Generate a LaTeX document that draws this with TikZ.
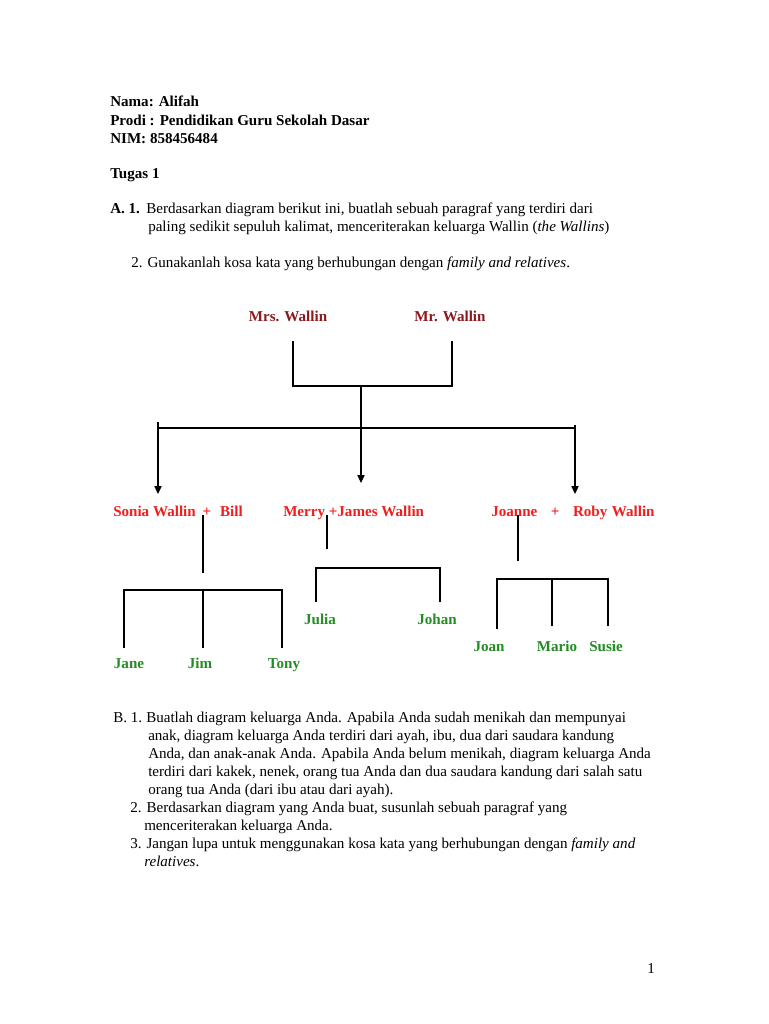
\documentclass[tikz,border=0pt]{standalone}
\usepackage{fontspec}
\setmainfont{Liberation Serif}
\usetikzlibrary{arrows.meta}
\definecolor{darkred}{RGB}{140,25,30}
\definecolor{namered}{RGB}{240,30,30}
\definecolor{kidgreen}{RGB}{35,140,35}
\newcommand{\bodyfs}{\fontsize{11.3}{13.5}\selectfont}
\tikzset{
 txt/.style={anchor=base west,inner sep=0pt,font=\bodyfs},
 hd/.style={anchor=base west,inner sep=0pt,font=\bodyfs\bfseries},
 parent/.style={anchor=base,inner sep=0pt,font=\bodyfs\bfseries,text=darkred},
 couple/.style={anchor=base west,inner sep=0pt,font=\bodyfs\bfseries,text=namered},
 kid/.style={anchor=base,inner sep=0pt,font=\bodyfs\bfseries,text=kidgreen},
 ln/.style={line width=0.8pt,black},
 arr/.style={ln,-{Triangle[width=5.5pt,length=6pt]}}
}
\begin{document}
\begin{tikzpicture}[x=0.75pt,y=-0.75pt]
\useasboundingbox (0,0) rectangle (768,1024);
\fill[white] (0,0) rectangle (768,1024);
% header
\node[hd] (nama) at (110,107) {Nama: Alifah};
\node[hd] (prodi) at (110,125) {Prodi : Pendidikan Guru Sekolah Dasar};
\node[hd] (nim) at (110,143) {NIM: 858456484};
\node[hd] (tugas) at (110,178) {Tugas 1};
\node[hd] (a1) at (110,213) {A. 1.};
\node[txt] (a1t) at (146,213) {Berdasarkan diagram berikut ini, buatlah sebuah paragraf yang terdiri dari};
\node[txt] (a1u) at (148,231) {paling sedikit sepuluh kalimat, menceriterakan keluarga Wallin (\textit{the Wallins})};
\node[txt] (a2) at (131,267) {2. Gunakanlah kosa kata yang berhubungan dengan \textit{family and relatives}.};
% generation 1
\node[parent] (mrs) at (288,321) {Mrs. Wallin};
\node[parent] (mr) at (450,321) {Mr. Wallin};
% generation 2
\node[couple] (sonia) at (113,516) {Sonia Wallin\hspace{0.45em}+\hspace{0.6em}Bill};
\node[couple] (merry) at (283,516) {Merry +James Wallin};
\node[couple] (joanne) at (491,516) {Joanne\hspace{0.9em}+\hspace{0.9em}Roby\hspace{0.3em}Wallin};
% generation 3
\node[kid] (jane) at (129,668) {Jane};
\node[kid] (jim) at (200,668) {Jim};
\node[kid] (tony) at (284,668) {Tony};
\node[kid] (julia) at (320,624) {Julia};
\node[kid] (johan) at (437,624) {Johan};
\node[kid] (joan) at (489,651) {Joan};
\node[kid] (mario) at (557,651) {Mario};
\node[kid] (susie) at (606,651) {Susie};
% coordinates
\coordinate (pL) at (293,341); \coordinate (pR) at (452,341);
\coordinate (pLb) at (293,386); \coordinate (pRb) at (452,386);
\coordinate (pC) at (361,386); \coordinate (aM) at (361,483);
\coordinate (bL) at (158,428); \coordinate (bR) at (575,428);
\coordinate (tL) at (158,422); \coordinate (aL) at (158,494);
\coordinate (tR) at (575,425); \coordinate (aR) at (575,494);
\draw[ln] (pL) -- (pLb) -- (pRb) -- (pR);
\draw[arr] (pC) -- (aM);
\draw[ln] (bL) -- (bR);
\draw[arr] (tL) -- (aL);
\draw[arr] (tR) -- (aR);
% Sonia family
\coordinate (s0) at (203,515); \coordinate (s1) at (203,573);
\coordinate (s2) at (124,590); \coordinate (s3) at (282,590); \coordinate (s4) at (203,590);
\coordinate (s5) at (124,648); \coordinate (s6) at (203,648); \coordinate (s7) at (282,648);
\draw[ln] (s0) -- (s1);
\draw[ln] (s5) -- (s2) -- (s3) -- (s7);
\draw[ln] (s4) -- (s6);
% Merry family
\coordinate (m0) at (327,515); \coordinate (m1) at (327,549);
\coordinate (m2) at (316,568); \coordinate (m3) at (440,568);
\coordinate (m4) at (316,602); \coordinate (m5) at (440,602);
\draw[ln] (m0) -- (m1);
\draw[ln] (m4) -- (m2) -- (m3) -- (m5);
% Joanne family
\coordinate (j0) at (518,515); \coordinate (j1) at (518,561);
\coordinate (j2) at (497,579); \coordinate (j3) at (608,579); \coordinate (j4) at (552,579);
\coordinate (j5) at (497,629); \coordinate (j6) at (552,626); \coordinate (j7) at (608,626);
\draw[ln] (j0) -- (j1);
\draw[ln] (j5) -- (j2) -- (j3) -- (j7);
\draw[ln] (j4) -- (j6);
% section B
\node[txt] (b1) at (113,722) {B. 1.};
\node[txt] (b1a) at (146,722) {Buatlah diagram keluarga Anda. Apabila Anda sudah menikah dan mempunyai};
\node[txt] (b1b) at (148,740) {anak, diagram keluarga Anda terdiri dari ayah, ibu, dua dari saudara kandung};
\node[txt] (b1c) at (148,758) {Anda, dan anak-anak Anda. Apabila Anda belum menikah, diagram keluarga Anda};
\node[txt] (b1d) at (148,776) {terdiri dari kakek, nenek, orang tua Anda dan dua saudara kandung dari salah satu};
\node[txt] (b1e) at (148,794) {orang tua Anda (dari ibu atau dari ayah).};
\node[txt] (b2a) at (130,812) {2. Berdasarkan diagram yang Anda buat, susunlah sebuah paragraf yang};
\node[txt] (b2b) at (144,830) {menceriterakan keluarga Anda.};
\node[txt] (b3a) at (130,848) {3. Jangan lupa untuk menggunakan kosa kata yang berhubungan dengan \textit{family and}};
\node[txt] (b3b) at (144,866) {\textit{relatives}.};
\node[txt] (pg) at (647,973) {1};
\end{tikzpicture}
\end{document}
